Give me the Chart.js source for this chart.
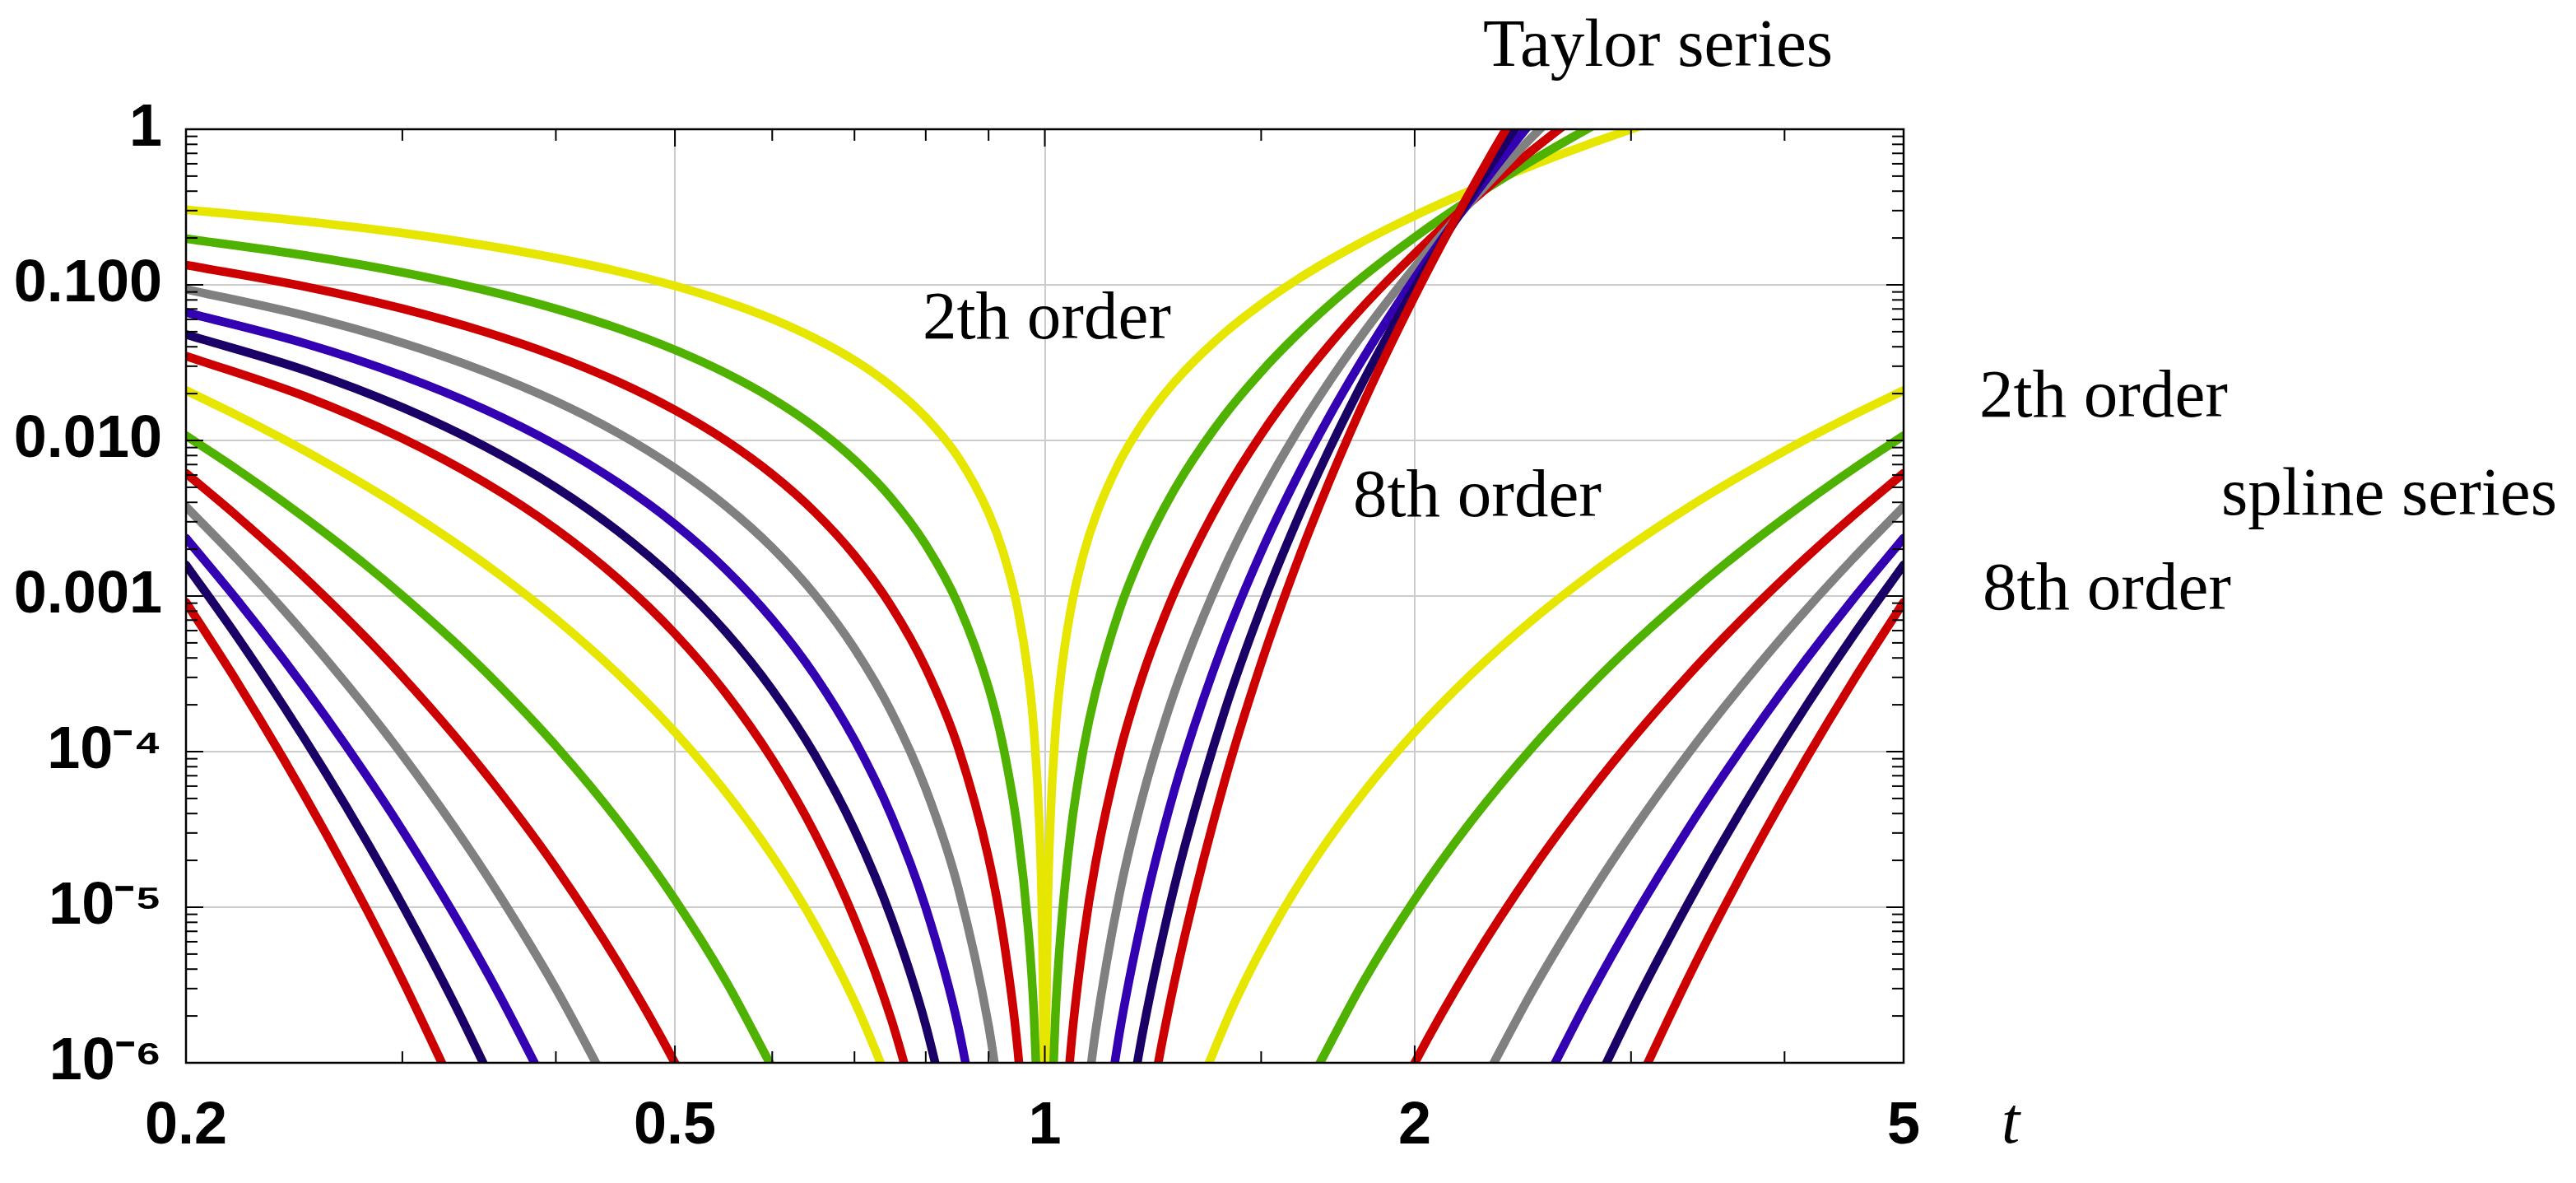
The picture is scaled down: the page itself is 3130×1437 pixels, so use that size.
<!DOCTYPE html>
<html>
<head>
<meta charset="utf-8">
<script src="https://cdn.jsdelivr.net/npm/chart.js@4.4.1/dist/chart.umd.min.js"></script>
<style>
html,body{margin:0;padding:0;background:#ffffff;overflow:hidden}
canvas{display:block}
</style>
</head>
<body>
<canvas id="c" width="3130" height="1437" style="width:3130px;height:1437px"></canvas>
<script>
// ---------------- data ----------------
// Each point is [t, log10(error)] ; one list per approximation order (2..8)
const orderNames = ['2th order','3th order','4th order','5th order','6th order','7th order','8th order'];
const seriesColors = ['rgb(230,230,0)','rgb(80,178,0)','rgb(204,0,0)','rgb(128,128,128)','rgb(51,0,178)','rgb(26,0,102)','rgb(204,0,0)'];

const taylorLeft = [
  [[0.2,-0.517],[0.25,-0.592],[0.3,-0.667],[0.35,-0.746],[0.4,-0.828],[0.45,-0.914],[0.5,-1.007],[0.55,-1.108],[0.6,-1.219],[0.65,-1.344],[0.7,-1.485],[0.75,-1.651],[0.8,-1.851],[0.85,-2.107],[0.9,-2.466],[0.925,-2.719],[0.95,-3.074],[0.97,-3.52],[0.98,-3.873],[0.99,-4.476],[0.995,-5.079],[0.998,-5.875],[0.999,-6.477]],
  [[0.2,-0.703],[0.25,-0.811],[0.3,-0.92],[0.35,-1.034],[0.4,-1.154],[0.45,-1.281],[0.5,-1.418],[0.55,-1.567],[0.6,-1.731],[0.65,-1.915],[0.7,-2.125],[0.75,-2.371],[0.8,-2.67],[0.85,-3.053],[0.9,-3.588],[0.925,-3.967],[0.95,-4.498],[0.97,-5.167],[0.98,-5.696],[0.99,-6.604]],
  [[0.2,-0.872],[0.25,-1.011],[0.3,-1.153],[0.35,-1.302],[0.4,-1.458],[0.45,-1.625],[0.5,-1.805],[0.55,-2.001],[0.6,-2.218],[0.65,-2.461],[0.7,-2.739],[0.75,-3.066],[0.8,-3.463],[0.85,-3.971],[0.9,-4.684],[0.925,-5.187],[0.95,-5.896],[0.97,-6.785]],
  [[0.2,-1.028],[0.25,-1.198],[0.3,-1.373],[0.35,-1.556],[0.4,-1.749],[0.45,-1.955],[0.5,-2.178],[0.55,-2.421],[0.6,-2.689],[0.65,-2.992],[0.7,-3.338],[0.75,-3.744],[0.8,-4.239],[0.85,-4.873],[0.9,-5.762],[0.925,-6.391]],
  [[0.2,-1.177],[0.25,-1.377],[0.3,-1.584],[0.35,-1.8],[0.4,-2.029],[0.45,-2.275],[0.5,-2.539],[0.55,-2.829],[0.6,-3.15],[0.65,-3.511],[0.7,-3.925],[0.75,-4.411],[0.8,-5.003],[0.85,-5.762],[0.9,-6.828]],
  [[0.2,-1.319],[0.25,-1.549],[0.3,-1.788],[0.35,-2.038],[0.4,-2.303],[0.45,-2.587],[0.5,-2.894],[0.55,-3.23],[0.6,-3.603],[0.65,-4.022],[0.7,-4.503],[0.75,-5.069],[0.8,-5.758],[0.85,-6.643]],
  [[0.2,-1.457],[0.25,-1.717],[0.3,-1.987],[0.35,-2.27],[0.4,-2.57],[0.45,-2.893],[0.5,-3.242],[0.55,-3.624],[0.6,-4.049],[0.65,-4.527],[0.7,-5.075],[0.75,-5.721],[0.8,-6.507]]
];

const taylorRight = [
  [[1.001,-6.477],[1.002,-5.875],[1.005,-5.08],[1.01,-4.478],[1.02,-3.877],[1.03,-3.526],[1.05,-3.085],[1.075,-2.735],[1.1,-2.488],[1.15,-2.14],[1.2,-1.895],[1.25,-1.706],[1.3,-1.552],[1.4,-1.31],[1.5,-1.124],[1.6,-0.973],[1.7,-0.846],[1.8,-0.737],[1.9,-0.641],[2.0,-0.555],[2.1,-0.478],[2.2,-0.408],[2.3,-0.343],[2.4,-0.284],[2.5,-0.229],[2.6,-0.177],[2.7,-0.129],[2.8,-0.083],[2.9,-0.041],[3.0,0.0],[3.1,0.039]],
  [[1.01,-6.603],[1.02,-5.702],[1.03,-5.175],[1.05,-4.512],[1.075,-3.986],[1.1,-3.615],[1.15,-3.092],[1.2,-2.723],[1.25,-2.438],[1.3,-2.205],[1.4,-1.84],[1.5,-1.559],[1.6,-1.33],[1.7,-1.137],[1.8,-0.971],[1.9,-0.825],[2.0,-0.694],[2.1,-0.576],[2.2,-0.469],[2.3,-0.371],[2.4,-0.28],[2.5,-0.196],[2.6,-0.117],[2.7,-0.043],[2.8,0.026]],
  [[1.03,-6.795],[1.05,-5.91],[1.075,-5.209],[1.1,-4.713],[1.15,-4.015],[1.2,-3.521],[1.25,-3.14],[1.3,-2.829],[1.4,-2.34],[1.5,-1.962],[1.6,-1.655],[1.7,-1.396],[1.8,-1.172],[1.9,-0.976],[2.0,-0.8],[2.1,-0.642],[2.2,-0.497],[2.3,-0.365],[2.4,-0.242],[2.5,-0.128],[2.6,-0.022],[2.7,0.078]],
  [[1.075,-6.414],[1.1,-5.793],[1.15,-4.919],[1.2,-4.301],[1.25,-3.823],[1.3,-3.433],[1.4,-2.82],[1.5,-2.346],[1.6,-1.96],[1.7,-1.635],[1.8,-1.354],[1.9,-1.107],[2.0,-0.886],[2.1,-0.686],[2.2,-0.504],[2.3,-0.337],[2.4,-0.183],[2.5,-0.039],[2.6,0.095]],
  [[1.1,-6.861],[1.15,-5.811],[1.2,-5.069],[1.25,-4.494],[1.3,-4.025],[1.4,-3.287],[1.5,-2.717],[1.6,-2.253],[1.7,-1.861],[1.8,-1.522],[1.9,-1.224],[2.0,-0.957],[2.1,-0.717],[2.2,-0.497],[2.3,-0.296],[2.4,-0.109],[2.5,0.064]],
  [[1.15,-6.694],[1.2,-5.827],[1.25,-5.155],[1.3,-4.607],[1.4,-3.745],[1.5,-3.078],[1.6,-2.535],[1.7,-2.076],[1.8,-1.68],[1.9,-1.331],[2.0,-1.019],[2.1,-0.737],[2.2,-0.48],[2.3,-0.244],[2.4,-0.026],[2.5,0.178]],
  [[1.2,-6.578],[1.25,-5.809],[1.3,-5.183],[1.4,-4.196],[1.5,-3.432],[1.6,-2.81],[1.7,-2.285],[1.8,-1.83],[1.9,-1.43],[2.0,-1.073],[2.1,-0.75],[2.2,-0.455],[2.3,-0.184],[2.4,0.066]]
];

const splineLeft = [
  [[0.2,-1.679],[0.22,-1.838],[0.24,-1.992],[0.26,-2.143],[0.28,-2.29],[0.3,-2.435],[0.33,-2.65],[0.36,-2.863],[0.4,-3.147],[0.45,-3.505],[0.5,-3.874],[0.55,-4.26],[0.6,-4.669],[0.65,-5.113],[0.7,-5.606],[0.75,-6.166]],
  [[0.2,-1.969],[0.22,-2.185],[0.24,-2.395],[0.26,-2.599],[0.28,-2.799],[0.3,-2.997],[0.33,-3.288],[0.36,-3.578],[0.4,-3.963],[0.45,-4.45],[0.5,-4.951],[0.55,-5.474],[0.6,-6.031]],
  [[0.2,-2.211],[0.22,-2.486],[0.24,-2.752],[0.26,-3.012],[0.28,-3.266],[0.3,-3.517],[0.33,-3.888],[0.36,-4.256],[0.4,-4.746],[0.45,-5.365],[0.5,-6.001],[0.55,-6.667]],
  [[0.2,-2.426],[0.22,-2.762],[0.24,-3.087],[0.26,-3.405],[0.28,-3.716],[0.3,-4.022],[0.33,-4.475],[0.36,-4.925],[0.4,-5.523],[0.45,-6.28]],
  [[0.2,-2.628],[0.22,-3.023],[0.24,-3.406],[0.26,-3.779],[0.28,-4.145],[0.3,-4.505],[0.33,-5.038],[0.36,-5.567],[0.4,-6.271]],
  [[0.2,-2.8],[0.22,-3.259],[0.24,-3.705],[0.26,-4.139],[0.28,-4.565],[0.3,-4.985],[0.33,-5.605],[0.36,-6.221]],
  [[0.2,-3.04],[0.22,-3.55],[0.24,-4.045],[0.26,-4.528],[0.28,-5.001],[0.3,-5.467],[0.33,-6.156]]
];

const splineRight = [
  [[1.3333,-6.166],[1.4286,-5.606],[1.5385,-5.113],[1.6667,-4.669],[1.8182,-4.26],[2.0,-3.874],[2.2222,-3.505],[2.5,-3.147],[2.7778,-2.863],[3.0303,-2.65],[3.3333,-2.435],[3.5714,-2.29],[3.8462,-2.143],[4.1667,-1.992],[4.5455,-1.838],[5.0,-1.679]],
  [[1.6667,-6.031],[1.8182,-5.474],[2.0,-4.951],[2.2222,-4.45],[2.5,-3.963],[2.7778,-3.578],[3.0303,-3.288],[3.3333,-2.997],[3.5714,-2.799],[3.8462,-2.599],[4.1667,-2.395],[4.5455,-2.185],[5.0,-1.969]],
  [[1.8182,-6.667],[2.0,-6.001],[2.2222,-5.365],[2.5,-4.746],[2.7778,-4.256],[3.0303,-3.888],[3.3333,-3.517],[3.5714,-3.266],[3.8462,-3.012],[4.1667,-2.752],[4.5455,-2.486],[5.0,-2.211]],
  [[2.2222,-6.28],[2.5,-5.523],[2.7778,-4.925],[3.0303,-4.475],[3.3333,-4.022],[3.5714,-3.716],[3.8462,-3.405],[4.1667,-3.087],[4.5455,-2.762],[5.0,-2.426]],
  [[2.5,-6.271],[2.7778,-5.567],[3.0303,-5.038],[3.3333,-4.505],[3.5714,-4.145],[3.8462,-3.779],[4.1667,-3.406],[4.5455,-3.023],[5.0,-2.628]],
  [[2.7778,-6.221],[3.0303,-5.605],[3.3333,-4.985],[3.5714,-4.565],[3.8462,-4.139],[4.1667,-3.705],[4.5455,-3.259],[5.0,-2.8]],
  [[3.0303,-6.156],[3.3333,-5.467],[3.5714,-5.001],[3.8462,-4.528],[4.1667,-4.045],[4.5455,-3.55],[5.0,-3.04]]
];

// axis ticks
const xMajorTicks = [0.2, 0.5, 1, 2, 5];
const xTickLabels = ['0.2', '0.5', '1', '2', '5'];
const xMinorTicks = [0.3, 0.4, 0.6, 0.7, 0.8, 0.9, 1.5, 3, 4];
const xGridValues = [0.5, 1, 2];
const yMajorTicks = [1, 0.1, 0.01, 0.001, 1e-4, 1e-5, 1e-6];
const yTickLabels = ['1', '0.100', '0.010', '0.001', '10\u207B\u2074', '10\u207B\u2075', '10\u207B\u2076'];
const yGridValues = [0.1, 0.01, 0.001, 1e-4, 1e-5];
const yMinorMultipliers = [2, 3, 4, 5, 6, 7, 8, 9];

// text annotations
const noteTexts = ['Taylor series', '2th order', '8th order', '2th order', 'spline series', '8th order'];
const axisTitleX = 't';

// ---------------- chart ----------------
const groups = [
  {name: 'Taylor series', lists: taylorLeft},
  {name: 'Taylor series', lists: taylorRight},
  {name: 'spline series', lists: splineLeft},
  {name: 'spline series', lists: splineRight}
];
const datasets = [];
groups.forEach(g => {
  g.lists.forEach((pts, i) => {
    datasets.push({
      label: g.name + ' ' + orderNames[i],
      data: pts.map(p => ({x: p[0], y: Math.pow(10, p[1])})),
      borderColor: seriesColors[i],
      backgroundColor: seriesColors[i],
      borderWidth: 10.5,
      pointRadius: 0,
      pointHoverRadius: 0,
      showLine: true,
      fill: false,
      cubicInterpolationMode: 'monotone',
      borderCapStyle: 'round',
      borderJoinStyle: 'round',
      order: 10 - i
    });
  });
});

const near = (a, b) => Math.abs(Math.log10(a) - Math.log10(b)) < 1e-6;
const tickFont = {family: '"Liberation Sans", Arial, sans-serif', size: 72, weight: 'bold', lineHeight: 1};

const framePlugin = {
  id: 'frame',
  afterDatasetsDraw(chart) {
    const {ctx, chartArea: a, scales: {x, y}} = chart;
    ctx.save();
    ctx.strokeStyle = '#000';
    ctx.lineCap = 'butt';
    ctx.lineWidth = 2;
    const tick = (px, py, dx, dy) => { ctx.beginPath(); ctx.moveTo(px, py); ctx.lineTo(px + dx, py + dy); ctx.stroke(); };
    xMajorTicks.forEach(v => { const p = x.getPixelForValue(v); tick(p, a.bottom, 0, -21); tick(p, a.top, 0, 21); });
    xMinorTicks.forEach(v => { const p = x.getPixelForValue(v); tick(p, a.bottom, 0, -14); tick(p, a.top, 0, 14); });
    yMajorTicks.forEach(v => { const p = y.getPixelForValue(v); tick(a.left, p, 21, 0); tick(a.right, p, -21, 0); });
    yMajorTicks.slice(1).forEach(dec => {
      yMinorMultipliers.forEach(m => { const p = y.getPixelForValue(dec * m); tick(a.left, p, 14, 0); tick(a.right, p, -14, 0); });
    });
    ctx.lineWidth = 2.5;
    ctx.strokeRect(a.left, a.top, a.right - a.left, a.bottom - a.top);
    ctx.restore();
  },
  afterDraw(chart) {
    const {ctx} = chart;
    ctx.save();
    ctx.fillStyle = '#000';
    ctx.textAlign = 'left';
    ctx.textBaseline = 'alphabetic';
    ctx.font = '83px "Liberation Serif", "Times New Roman", serif';
    const pos = [[1802, 80], [1121, 411], [1644, 627], [2405, 506], [2699, 625], [2409, 740]];
    noteTexts.forEach((t, i) => ctx.fillText(t, pos[i][0], pos[i][1]));
    ctx.font = 'italic 80px "Liberation Serif", "Times New Roman", serif';
    ctx.fillText(axisTitleX, 2432, 1388);
    ctx.restore();
  }
};

new Chart(document.getElementById('c'), {
  type: 'scatter',
  data: {datasets},
  options: {
    responsive: false,
    animation: false,
    devicePixelRatio: 1,
    events: [],
    layout: {padding: {left: 0, top: 157, right: 817, bottom: 0}},
    plugins: {legend: {display: false}, tooltip: {enabled: false}, title: {display: false}},
    scales: {
      x: {
        type: 'logarithmic',
        position: 'bottom',
        min: 0.2,
        max: 5,
        afterBuildTicks: s => { s.ticks = xMajorTicks.map(v => ({value: v})); },
        afterFit: s => { s.height = 146; },
        ticks: {
          autoSkip: false, maxRotation: 0, minRotation: 0,
          padding: 42, color: '#000', font: tickFont,
          callback: v => { const i = xMajorTicks.findIndex(t => near(t, v)); return i >= 0 ? xTickLabels[i] : ''; }
        },
        grid: {
          drawTicks: false, lineWidth: 2,
          color: c => (c.tick && xGridValues.some(g => near(g, c.tick.value))) ? 'rgb(204,204,204)' : 'rgba(0,0,0,0)'
        },
        border: {display: false}
      },
      y: {
        type: 'logarithmic',
        position: 'left',
        min: 1e-6,
        max: 1,
        afterBuildTicks: s => { s.ticks = yMajorTicks.map(v => ({value: v})); },
        afterFit: s => { s.width = 226; },
        ticks: {
          autoSkip: false, padding: 29, color: '#000', font: tickFont,
          callback: v => { const i = yMajorTicks.findIndex(t => near(t, v)); return i >= 0 ? yTickLabels[i] : ''; }
        },
        grid: {
          drawTicks: false, lineWidth: 2,
          color: c => (c.tick && yGridValues.some(g => near(g, c.tick.value))) ? 'rgb(204,204,204)' : 'rgba(0,0,0,0)'
        },
        border: {display: false}
      }
    }
  },
  plugins: [framePlugin]
});
</script>
</body>
</html>
